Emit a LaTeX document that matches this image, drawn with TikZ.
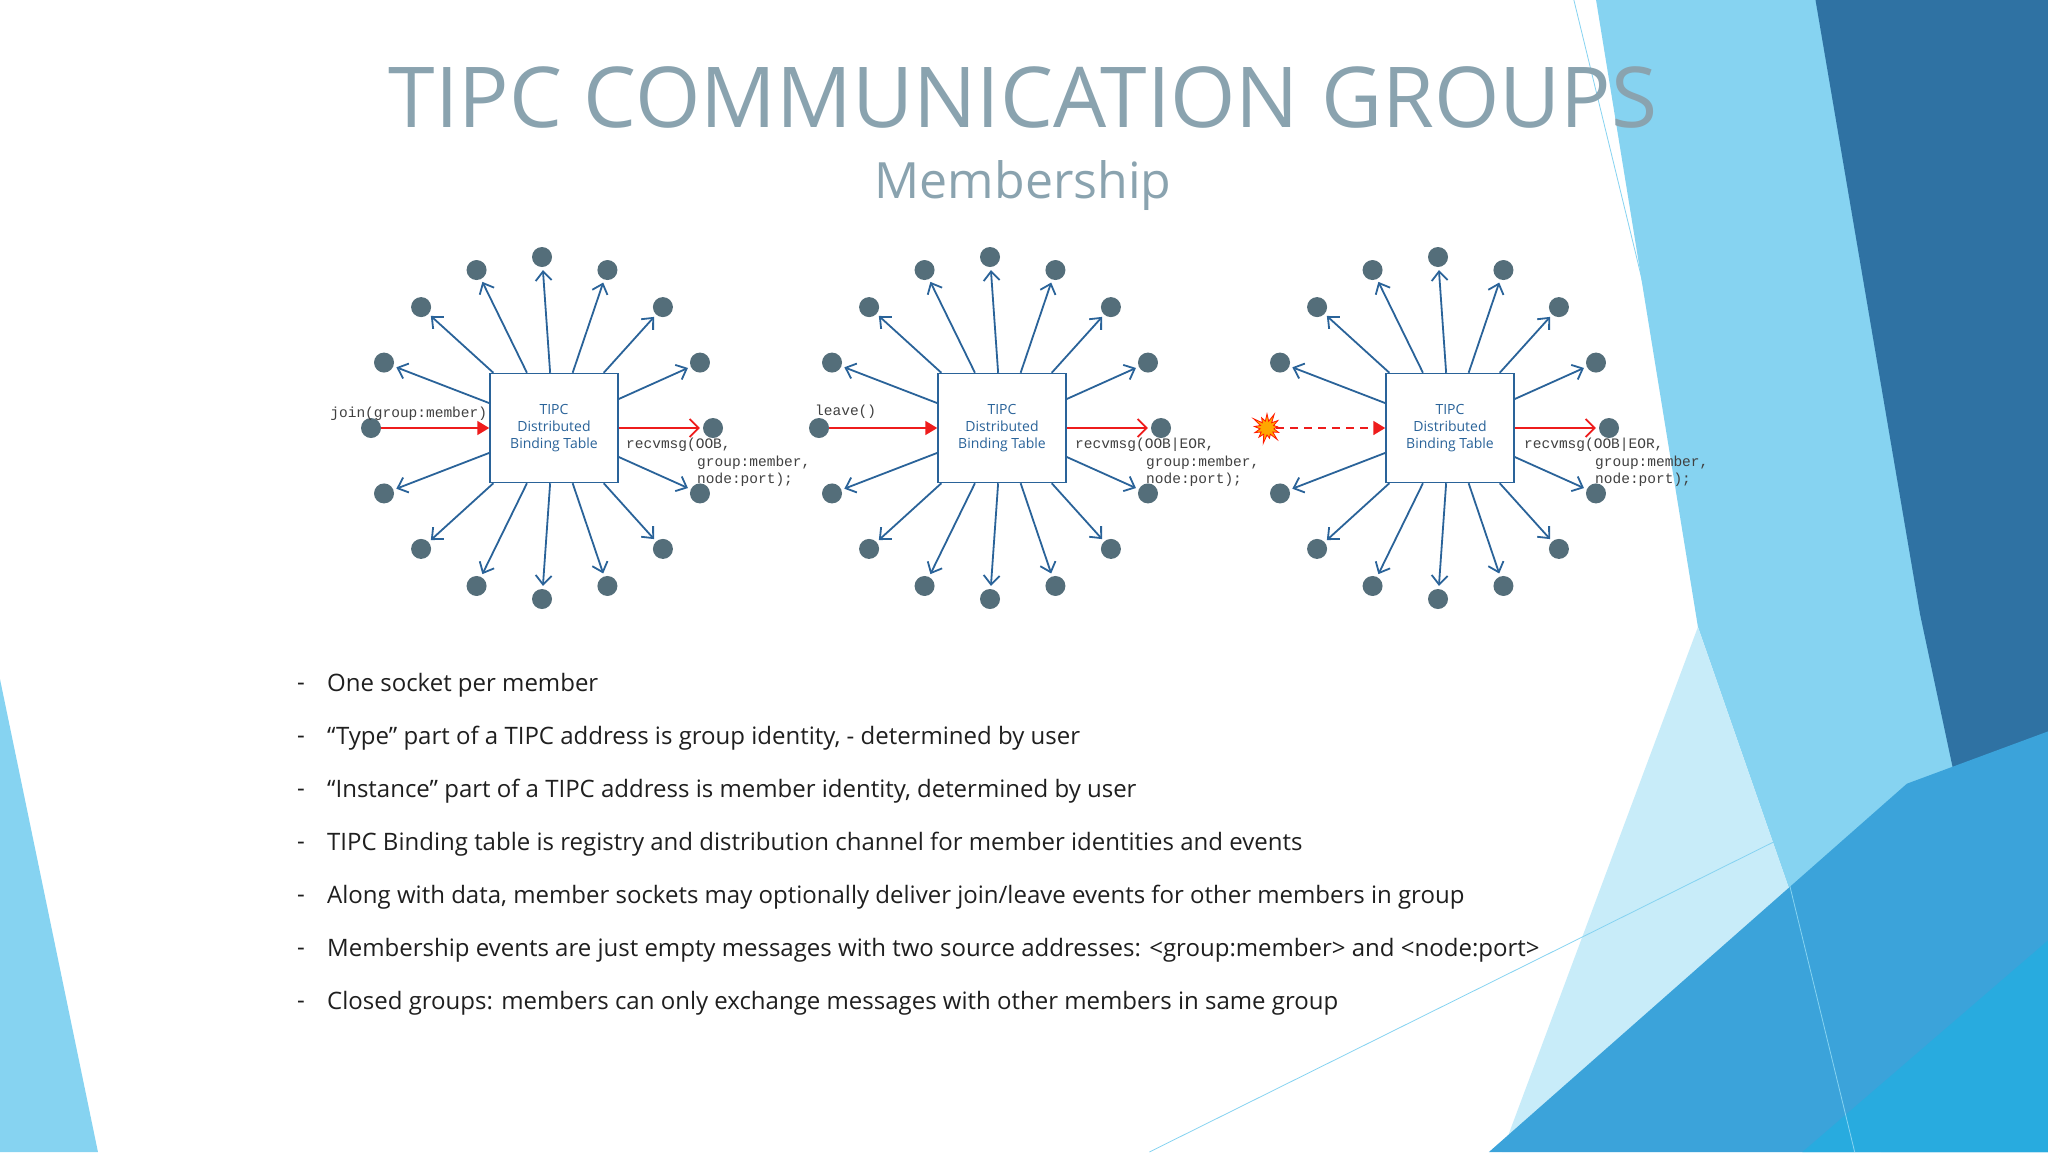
\documentclass[tikz,border=0pt]{standalone}
\usepackage{fontspec}
\setmainfont{Open Sans}
\newfontfamily\monof{Liberation Mono}
\usetikzlibrary{arrows.meta,shapes.symbols}
\definecolor{titlec}{HTML}{8AA3AF}
\definecolor{linkc}{HTML}{2A6399}
\definecolor{dotc}{HTML}{546E7A}
\definecolor{redc}{HTML}{EE1C1C}
\definecolor{lb}{HTML}{86D3F1}
\definecolor{pb}{HTML}{C8ECF9}
\definecolor{db}{HTML}{2F72A3}
\definecolor{mb}{HTML}{3BA3DA}
\definecolor{cb}{HTML}{28ABDF}
\tikzset{
 member/.style={circle,fill=dotc,inner sep=0pt,minimum size=20pt},
 dtable/.style={draw=linkc,line width=1.5pt,fill=white,minimum width=128pt,minimum height=109pt,align=center,text=linkc,font=\fontsize{14}{17}\selectfont},
 fanout/.style={draw=linkc,line width=1.8pt,-{Straight Barb[length=9pt,width=16pt,line width=1.8pt]},shorten >=3pt},
 redout/.style={draw=redc,line width=1.8pt,-{Straight Barb[length=9pt,width=18pt,line width=1.8pt]},shorten >=3pt},
 redin/.style={draw=redc,line width=1.8pt,-{Triangle[length=12pt,width=14pt]}},
 code/.style={font=\monof\fontsize{14.5}{17.6}\selectfont,text=black!75,inner sep=0pt,align=left},
 bullet/.style={anchor=west,font=\fontsize{24}{28}\selectfont,text=black!88,inner sep=0pt},
}
\newcommand\tipcgroup[3]{%
 \node[dtable] (#2box) at (#1+12,428) {TIPC\\Distributed\\Binding Table};
 \foreach \k in {#3}{
   \node[member] (#2m\k) at ({#1+171*cos(22.5*\k)},{428-171*sin(22.5*\k)}) {};
 }
 \foreach \k in {1,...,7,9,10,...,15}{ \draw[fanout] (#2box) -- (#2m\k); }
 \draw[redout] (#2box.east) -- (#2m0);
}
\begin{document}
\begin{tikzpicture}[x=1pt,y=-1pt]
\useasboundingbox (0,0) rectangle (2048,1152);
\fill[white] (0,0) rectangle (2048,1152);
\begin{scope}[x=1.3061pt,y=-1.3061pt]
 \fill[lb] (1222,0) -- (1568,0) -- (1568,882) -- (1440,882) -- (1300,480) -- cycle;
 \fill[pb] (1300,480) -- (1440,882) -- (1150,882) -- cycle;
 \fill[db] (1390,0) -- (1568,0) -- (1568,700) -- (1520,705) -- (1470,470) -- cycle;
 \fill[mb] (1140,882) -- (1460,600) -- (1568,560) -- (1568,882) -- cycle;
 \fill[cb] (1380,882) -- (1568,720) -- (1568,882) -- cycle;
 \draw[lb,line width=0.8pt] (1205,0) -- (1420,882);
 \draw[lb,line width=0.8pt] (880,882) -- (1468,590);
 \fill[lb] (0,520) -- (75,882) -- (0,882) -- cycle;
\end{scope}
\node[text=titlec,font=\fontsize{84}{90}\selectfont] (title) at (1023,97) {TIPC COMMUNICATION GROUPS};
\node[text=titlec,font=\fontsize{50}{56}\selectfont] (sub) at (1023,186) {Membership};
% diagram 1
\tipcgroup{542}{a}{0,...,15}
\draw[redin] (am8) -- (abox.west);
\node[code,anchor=south east] (alab) at ([yshift=7pt,xshift=-2pt]abox.west) {join(group:member)};
\node[code,anchor=north west] (arecv) at (626,438) {recvmsg(OOB,\\\hspace*{71pt}group:member,\\\hspace*{71pt}node:port);};
% diagram 2
\tipcgroup{990}{b}{0,...,15}
\draw[redin] (bm8) -- (bbox.west);
\node[code,anchor=south west] (blab) at (815,419) {leave()};
\node[code,anchor=north west] (brecv) at (1075,438) {recvmsg(OOB|EOR,\\\hspace*{71pt}group:member,\\\hspace*{71pt}node:port);};
% diagram 3
\tipcgroup{1438}{c}{0,...,7,9,10,...,15}
\node[starburst,starburst points=13,starburst point height=10pt,fill=orange!70!yellow,draw=red!80!orange,line width=0.8pt,inner sep=0pt,minimum width=34pt,minimum height=34pt] (star) at (1438-171,428) {};
\draw[redin,dashed,dash pattern=on 8pt off 6pt] (star) -- (cbox.west);
\node[code,anchor=north west] (crecv) at (1524,438) {recvmsg(OOB|EOR,\\\hspace*{71pt}group:member,\\\hspace*{71pt}node:port);};
% bullets
\foreach \t [count=\i from 0] in {
 {One socket per member},
 {“Type” part of a TIPC address is group identity, - determined by user},
 {“Instance” part of a TIPC address is member identity, determined by user},
 {TIPC Binding table is registry and distribution channel for member identities and events},
 {Along with data, member sockets may optionally deliver join/leave events for other members in group},
 {Membership events are just empty messages with two source addresses: <group:member> and <node:port>},
 {Closed groups: members can only exchange messages with other members in same group}}{
 \node[bullet] (dash\i) at (297,{687+53*\i}) {-};
 \node[bullet] (b\i) at (327,{685+53*\i}) {\t};
}
\end{tikzpicture}
\end{document}
